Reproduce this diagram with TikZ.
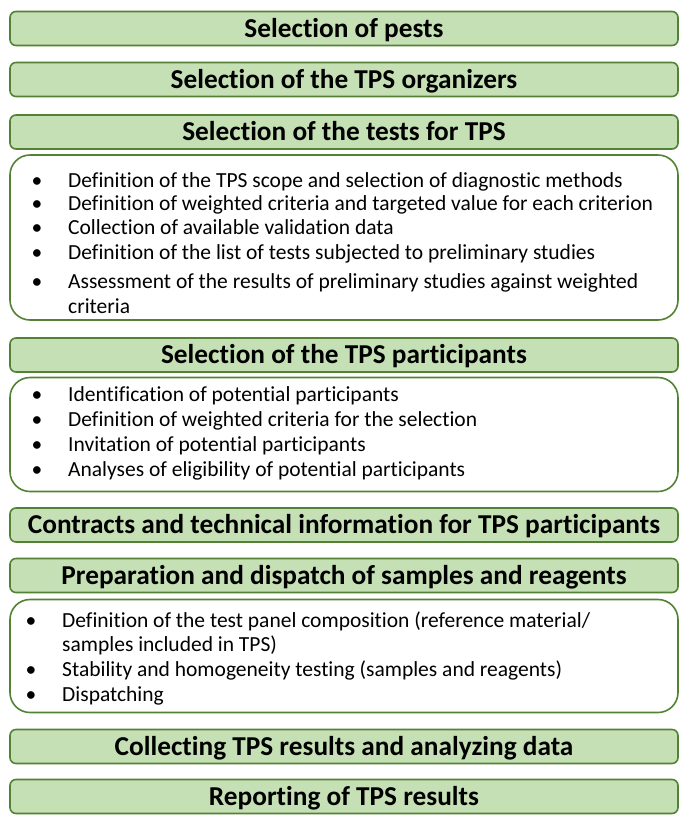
\documentclass[tikz,border=0pt]{standalone}
\usepackage{fontspec}
\setmainfont{Carlito}[Ligatures=NoCommon]
\definecolor{gfill}{HTML}{C5E0B4}
\definecolor{gline}{HTML}{548235}
\begin{document}
\begin{tikzpicture}[x=1pt,y=-1pt,
  greenbox/.style={draw=gline, fill=gfill, line width=1.6pt, rounded corners=6pt,
    minimum width=668pt, minimum height=34pt, inner sep=0pt,
    text height=20pt, text depth=3pt,
    font=\fontsize{27.3}{32}\selectfont\bfseries},
  whitebox/.style={draw=gline, fill=white, line width=1.6pt, rounded corners=20pt,
    minimum width=668pt, inner sep=0pt},
  bul/.style={anchor=base, inner sep=0pt, font=\fontsize{21.5}{26}\selectfont},
  itm/.style={anchor=base west, inner sep=0pt, font=\fontsize{21.5}{26}\selectfont}]
\useasboundingbox (0,0) rectangle (685,820);
\fill[white] (0,0) rectangle (685,820);

\node[greenbox] (b1) at (344,28.5) {Selection of pests};
\node[greenbox] (b2) at (344,79.5) {Selection of the TPS organizers};
\node[greenbox] (b3) at (344,132) {Selection of the tests for TPS};

\node[whitebox, minimum height=165pt] (w1) at (344,237.5) {};
\foreach \y/\t [count=\i] in {
  187/Definition of the TPS scope and selection of diagnostic methods,
  210/Definition of weighted criteria and targeted value for each criterion,
  234/Collection of available validation data,
  259/Definition of the list of tests subjected to preliminary studies,
  288/Assessment of the results of preliminary studies against weighted}{
  \node[bul] (wa\i) at (37,\y) {\textbullet};
  \node[itm] (ta\i) at (68,\y) {\t};
}
\node[itm] (ta6) at (68,313) {criteria};

\node[greenbox] (b4) at (344,355) {Selection of the TPS participants};

\node[whitebox, minimum height=114pt] (w2) at (344,434.5) {};
\foreach \y/\t [count=\i] in {
  401/Identification of potential participants,
  426/Definition of weighted criteria for the selection,
  451/Invitation of potential participants,
  476/Analyses of eligibility of potential participants}{
  \node[bul] (wb\i) at (37,\y) {\textbullet};
  \node[itm] (tb\i) at (68,\y) {\t};
}

\node[greenbox] (b5) at (344,525) {Contracts and technical information for TPS participants};
\node[greenbox] (b6) at (344,575.5) {Preparation and dispatch of samples and reagents};

\node[whitebox, minimum height=113pt] (w3) at (344,656) {};
\node[bul] (wc1) at (31,627) {\textbullet};
\node[itm] (tc1) at (62,627) {Definition of the test panel composition (reference material/};
\node[itm] (tc1b) at (62,651) {samples included in TPS)};
\node[bul] (wc2) at (31,676) {\textbullet};
\node[itm] (tc2) at (62,676) {Stability and homogeneity testing (samples and reagents)};
\node[bul] (wc3) at (31,701) {\textbullet};
\node[itm] (tc3) at (62,701) {Dispatching};

\node[greenbox] (b7) at (344,746.5) {Collecting TPS results and analyzing data};
\node[greenbox] (b8) at (344,796.5) {Reporting of TPS results};
\end{tikzpicture}
\end{document}
